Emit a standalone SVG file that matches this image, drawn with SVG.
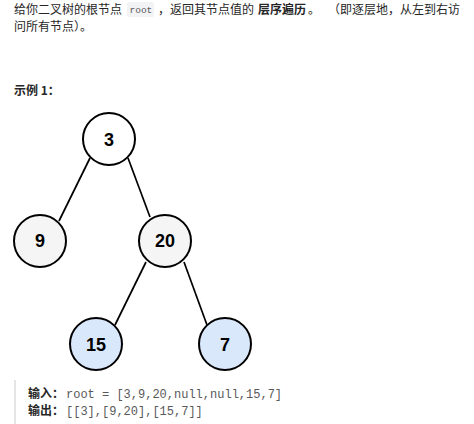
<svg xmlns="http://www.w3.org/2000/svg" width="474" height="424" viewBox="0 0 474 424">
<style>
.t{font-family:"Noto Sans CJK SC","Noto Sans",sans-serif;font-size:12px;fill:#262626}
.b{font-weight:bold}
.m{font-family:"Liberation Mono","DejaVu Sans Mono",monospace;font-size:12px;fill:#595959}
.c{font-family:"Liberation Mono",monospace;font-size:9.5px;fill:#595959}
.n{stroke:#000;stroke-width:2}
.l{font-family:"Liberation Sans",Arial,sans-serif;font-weight:bold;font-size:18px;fill:#000;text-anchor:middle}
.e{stroke:#000;stroke-width:1.7;fill:none}
</style>
<rect width="474" height="424" fill="#fff"/>
<rect x="127" y="2" width="27" height="15" rx="2" fill="#f2f3f5"/>
<text class="t" y="14"><tspan x="14">给你二叉树的根节点</tspan><tspan x="158">，</tspan><tspan x="170">返回其节点值的</tspan><tspan x="258" class="b">层序遍历</tspan><tspan x="308">。</tspan><tspan x="328">（即逐层地，从左到右访</tspan></text>
<text class="c" x="129.5" y="13">root</text>
<text class="t" x="14" y="31">问所有节点）。</text>
<text class="t b" x="14" y="95">示例 1：</text>
<g id="edges">
<line class="e" x1="90" y1="158" x2="59" y2="221"/>
<line class="e" x1="128" y1="158" x2="150" y2="217"/>
<line class="e" x1="146" y1="262" x2="115" y2="325"/>
<line class="e" x1="184" y1="262" x2="207" y2="325"/>
</g>
<g id="n3"><circle class="n" cx="109" cy="139" r="26" fill="#fff"/><text class="l" x="109" y="146">3</text></g>
<g id="n9"><circle class="n" cx="40" cy="241" r="26" fill="#f5f5f5"/><text class="l" x="40" y="247">9</text></g>
<g id="n20"><circle class="n" cx="165" cy="241" r="26" fill="#f5f5f5"/><text class="l" x="165" y="247">20</text></g>
<g id="n15"><circle class="n" cx="96" cy="344" r="26" fill="#dae8fc"/><text class="l" x="96" y="351">15</text></g>
<g id="n7"><circle class="n" cx="225" cy="344" r="26" fill="#dae8fc"/><text class="l" x="225" y="351">7</text></g>
<rect x="14" y="380" width="2" height="44" fill="#e5e5e5"/>
<text class="t b" x="28" y="398">输入：</text>
<text class="m" x="66" y="398">root = [3,9,20,null,null,15,7]</text>
<text class="t b" x="28" y="415">输出：</text>
<text class="m" x="66" y="415">[[3],[9,20],[15,7]]</text>
</svg>
